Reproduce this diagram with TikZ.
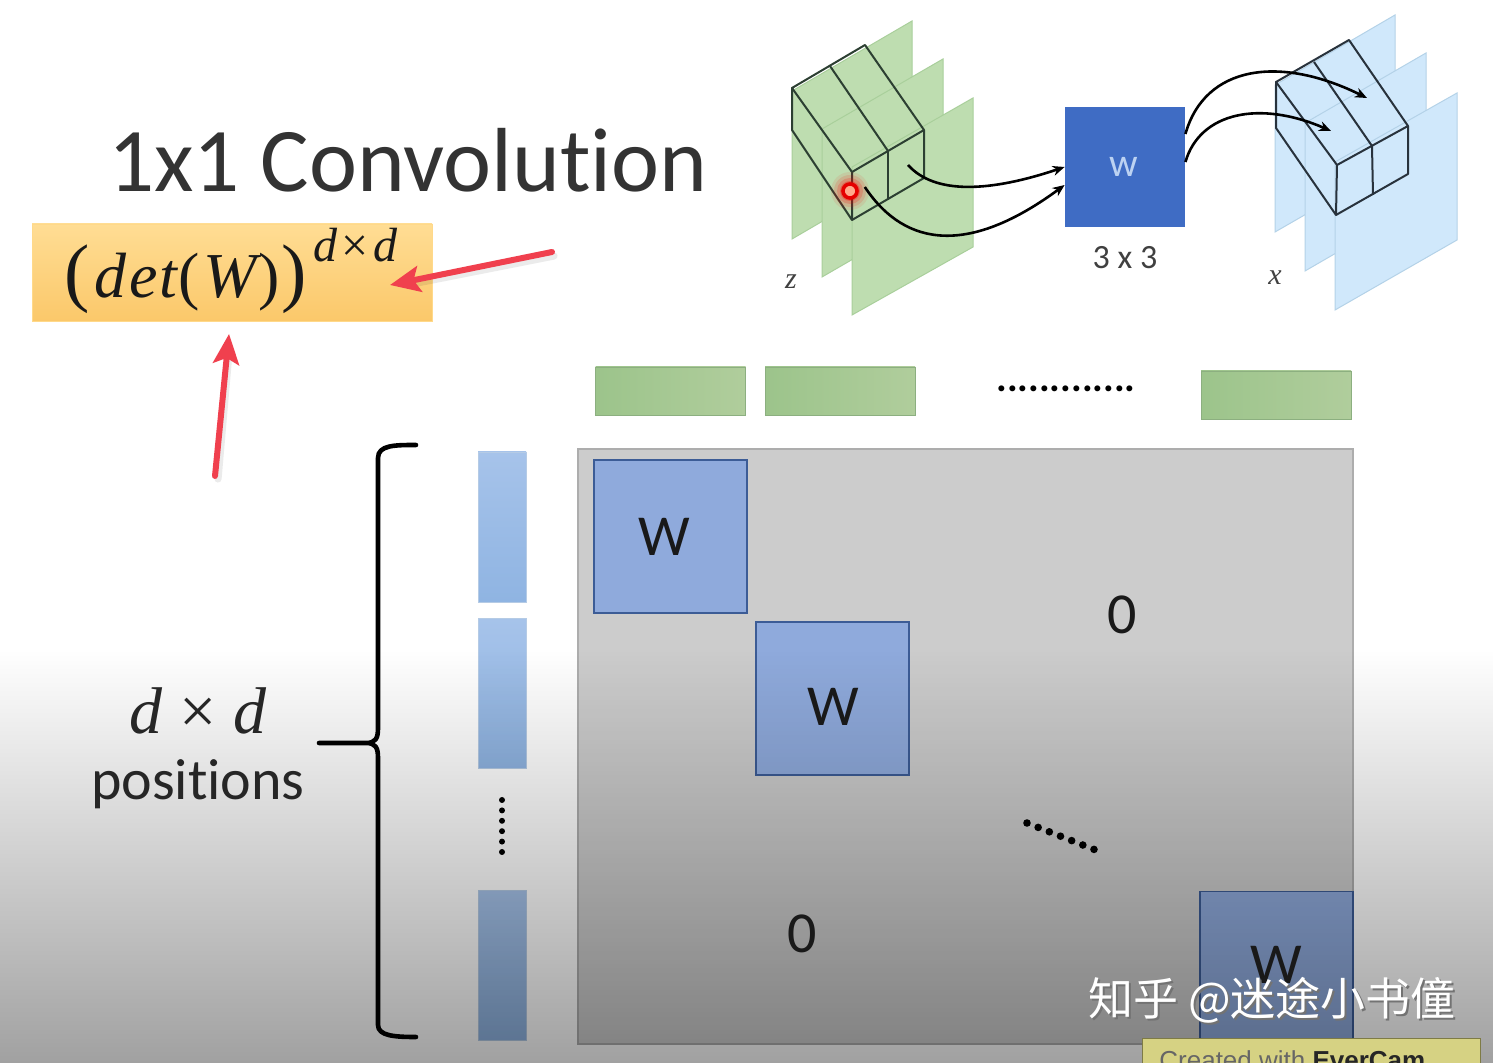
\documentclass[tikz,border=0pt]{standalone}
\usepackage{fontspec}
\setmainfont{Carlito}[Ligatures=NoCommon]
\newfontfamily\cjk{Noto Sans CJK SC}
\newfontfamily\libsans{Liberation Sans}
\newfontfamily\formfont{Liberation Serif}
\usetikzlibrary{fadings,arrows.meta,calc}
\definecolor{planeg}{HTML}{BEDDB0}
\definecolor{planegl}{HTML}{A9CF9B}
\definecolor{planeb}{HTML}{D0E8FB}
\definecolor{planebl}{HTML}{B4D2E8}
\definecolor{redarrow}{HTML}{F0404E}
\definecolor{wfill}{HTML}{8FAADC}
\definecolor{wedge}{HTML}{3C5C96}
\definecolor{wdark}{HTML}{3F6CC4}
\definecolor{wpale}{HTML}{BCD2F2}
\definecolor{gbarl}{HTML}{9CC48B}
\definecolor{gbarr}{HTML}{B0CD9C}
\definecolor{gbaredge}{HTML}{8CAF80}
\definecolor{bbart}{HTML}{A6C3EA}
\definecolor{bbarb}{HTML}{8FB4E2}
\definecolor{bbaredge}{HTML}{B5CBE5}
\definecolor{ftop}{HTML}{FFDD94}
\definecolor{fbot}{HTML}{FBC86A}
\definecolor{fedge}{HTML}{FFD98A}
\definecolor{tagfill}{HTML}{D6D283}
\definecolor{tagedge}{HTML}{7E7B45}
\definecolor{cubeg}{HTML}{2C3F32}
\definecolor{cubeb}{HTML}{28323C}
\tikzfading[name=lowerfade, top color=transparent!100, bottom color=transparent!63]
\tikzset{
  x=0.5pt, y=-0.5pt,
  gplane/.style={fill=planeg, draw=planegl, line width=0.5pt},
  bplane/.style={fill=planeb, draw=planebl, line width=0.5pt},
  cubeline/.style={draw=cubeg, line width=1pt, line join=round},
  cubelineb/.style={draw=cubeb, line width=1pt, line join=round},
  flow/.style={draw=black, line width=1.3pt, -{Stealth[length=6pt,width=5pt]}},
  redarr/.style={draw=redarrow, line width=3pt, line cap=round, -{Stealth[length=15pt,width=13pt,inset=3pt]}},
  redshadow/.style={draw=black, opacity=0.08, line width=3.6pt, line cap=round},
  greenbar/.style={draw=gbaredge, line width=0.4pt, left color=gbarl, right color=gbarr, minimum width=75pt, minimum height=24pt, inner sep=0pt},
  bluebar/.style={draw=bbaredge, line width=0.4pt, top color=bbart, bottom color=bbarb, minimum width=24pt, minimum height=75pt, inner sep=0pt},
  wblock/.style={fill=wfill, draw=wedge, line width=0.7pt, minimum width=76.5pt, minimum height=76.5pt, inner sep=0pt},
  biglabel/.style={font=\fontsize{29}{31}\selectfont, text=black!90, inner sep=0pt},
  dotrow/.style={font=\fontsize{20}{22}\bfseries\selectfont, text=black, inner sep=0pt},
}
\begin{document}
\begin{tikzpicture}
\useasboundingbox (0,0) rectangle (1495,1063);
\clip (0,0) rectangle (1495,1063);
\fill[white] (0,0) rectangle (1495,1063);

% title and formula
\node[inner sep=0pt, text=black!80, font=\fontsize{45.5}{50}\selectfont] (title) at (408,160) {1x1 Convolution};
\node[minimum width=200pt, minimum height=48.5pt, inner sep=0pt, top color=ftop, bottom color=fbot, draw=fedge, line width=0.4pt] (formula) at (232,272.5) {};
\node[anchor=base west, inner sep=0pt, text=black!90] (formulatext) at (64,298) {\formfont
  {\fontsize{38}{40}\selectfont (}\kern2.5pt{\fontsize{32}{34}\selectfont\itshape d\kern1.2pt e\kern1.2pt t}\kern0.5pt{\fontsize{32}{34}\selectfont (}\kern1.5pt{\fontsize{32}{34}\selectfont\itshape W}\kern1pt{\fontsize{32}{34}\selectfont )}\kern1pt{\fontsize{38}{40}\selectfont )}\kern3.5pt\raisebox{18pt}{\fontsize{24}{26}\selectfont\itshape d\kern2pt{\upshape×}\kern2pt d}};
\coordinate (redA) at (552,252);
\coordinate (redB) at (215,476);
\draw[redshadow] ($(redA)+(2,4)$) -- (412,284);
\draw[redshadow] ($(redB)+(3,3)$) -- (229,352);
\draw[redarr] (redA) -- (390,285);
\draw[redarr] (redB) -- (229,334);

% green stack
\path[gplane] (792,91) -- (912,21) -- (912,169) -- (792,239) -- cycle;
\path[gplane] (822,129) -- (943,59) -- (943,207) -- (822,277) -- cycle;
\path[gplane] (852,167) -- (973,98) -- (973,247) -- (852,315) -- cycle;
\draw[cubeline] (792,88) -- (865,45) -- (924,130) -- (852,172) -- cycle;
\draw[cubeline] (830,66) -- (888,151);
\draw[cubeline] (792,88) -- (792,130) -- (852,220) -- (852,172);
\draw[cubeline] (852,220) -- (924,178) -- (924,130);
\draw[cubeline] (888,151) -- (888,200);
\node[inner sep=0pt, font=\formfont\fontsize{15}{17}\itshape\selectfont, text=black!75] (zlabel) at (791,282) {z};

% red pointer
\foreach \r/\o in {19/0.08,16/0.12,13/0.18,10/0.3}
  \fill[red, opacity=\o] (850,191) circle[radius=\r];
\node[circle, draw=red!90!black, fill=orange!50!red!45!white, line width=1.8pt, minimum size=7pt, inner sep=0pt] (pointer) at (850,191) {};

% W box
\node[fill=wdark, minimum width=60pt, minimum height=60pt, inner sep=0pt] (wsmall) at (1125,167) {};
\node[inner sep=0pt, text=wpale, font=\fontsize{20}{22}\selectfont] (wsmalltext) at (1124,167) {w};
\node[inner sep=0pt, text=black!75, font=\fontsize{17}{19}\selectfont] (size) at (1125,258) {3 x 3};

% blue stack
\path[bplane] (1275,85) -- (1395,15) -- (1395,163) -- (1275,232) -- cycle;
\path[bplane] (1305,123) -- (1426,53) -- (1426,201) -- (1305,271) -- cycle;
\path[bplane] (1335,162) -- (1457,93) -- (1457,240) -- (1335,310) -- cycle;
\draw[cubelineb] (1276,82) -- (1349,40) -- (1408,126) -- (1337,165) -- cycle;
\draw[cubelineb] (1314,62) -- (1372,146);
\draw[cubelineb] (1276,82) -- (1276,128) -- (1336,215) -- (1337,165);
\draw[cubelineb] (1336,215) -- (1408,174) -- (1408,126);
\draw[cubelineb] (1372,146) -- (1373,195);
\node[inner sep=0pt, font=\formfont\fontsize{15}{17}\itshape\selectfont, text=black!75] (xlabel) at (1275,278) {x};

% flow arrows
\coordinate (srcA) at (908,165);
\coordinate (dstA) at (1367,98);
\coordinate (dstB) at (1331,131);
\draw[flow] (srcA) .. controls (935,195) and (990,192) .. (wsmall.west |- 0,167);
\draw[flow] (pointer.east) ++(6,-4) .. controls (900,240) and (960,262) .. (wsmall.west |- 0,185);
\draw[flow] (wsmall.east |- 0,134) .. controls (1205,65) and (1280,55) .. (dstA);
\draw[flow] (wsmall.east |- 0,162) .. controls (1200,112) and (1260,100) .. (dstB);

% green bars and dots
\node[greenbar] (g1) at (670.5,391) {};
\node[greenbar] (g2) at (840,391) {};
\node[greenbar] (g3) at (1276,395) {};
\node[dotrow] (hdots) at (1066,389) {.............};

% matrix
\node[fill=black!20, draw=black!32, line width=0.6pt, minimum width=387.5pt, minimum height=297.5pt, inner sep=0pt] (matrix) at (965.5,746.5) {};
\node[wblock] (w1) at (670.5,536.5) {};
\node[wblock] (w2) at (832.5,698.5) {};
\node[wblock] (w3) at (1276.5,968) {};

% left bars
\node[bluebar] (b1) at (502,527) {};
\node[bluebar] (b2) at (502,693.5) {};
\node[bluebar] (b3) at (502,965.5) {};

% lower darkening of the whole slide
\fill[black, path fading=lowerfade] (0,650) rectangle (1495,1063);

% matrix labels
\node[biglabel] (t1) at (664,537) {W};
\node[biglabel] (t2) at (833,707) {W};
\node[biglabel] (t3) at (1276,965) {W};
\node[biglabel] (z1) at (1122,615) {0};
\node[biglabel] (z2) at (802,934) {0};
\draw[black, line width=3pt, line cap=round, dash pattern=on 0pt off 5.2pt] (502,800) -- (502,862);
\draw[black, line width=3.8pt, line cap=round, dash pattern=on 0pt off 6pt] (1027,823) -- (1098,851);

% brace
\draw[black, line width=2.3pt, line cap=round, line join=round]
  (416,445) .. controls (395,445) and (378,445) .. (378,458)
  -- (378,728) .. controls (378,738) and (376,743) .. (366,743) -- (319,743)
  (366,743) .. controls (376,743) and (378,748) .. (378,758)
  -- (378,1025) .. controls (378,1036) and (395,1037) .. (416,1037);
\node[inner sep=0pt, text=black!85, font=\formfont\fontsize{33}{36}\selectfont] (dd) at (198,711) {\textit{d} × \textit{d}};
\node[inner sep=0pt, text=black!85, font=\fontsize{29}{31}\selectfont] (pos) at (198,784) {positions};

% recorder tag and watermark
\node[anchor=north west, fill=tagfill, draw=tagedge, line width=0.5pt, minimum width=169pt, minimum height=20pt, inner sep=0pt] (tag) at (1142,1038) {};
\node[anchor=west, inner sep=0pt, text=black!60, font=\libsans\fontsize{13}{15}\selectfont] (tagtext) at (1159,1060) {Created with \textbf{\textcolor{black!85}{EverCam}}};
\node[inner sep=0pt, text=black!55, font=\cjk\fontsize{22.5}{25}\selectfont] (wmshadow) at (1274,1002.5) {知乎 @迷途小书僮};
\node[inner sep=0pt, text=white, font=\cjk\fontsize{22.5}{25}\selectfont] (wm) at (1272,1000.5) {知乎 @迷途小书僮};
\end{tikzpicture}
\end{document}
